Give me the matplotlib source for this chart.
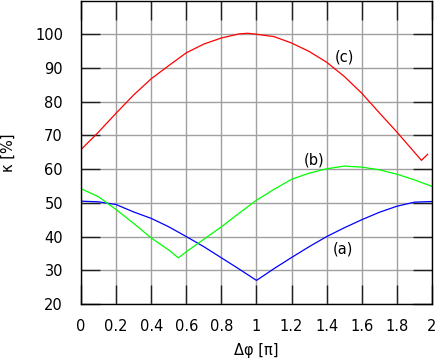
import matplotlib
matplotlib.use("Agg")
import matplotlib.pyplot as plt
import numpy as np

# data
dphi = [0.0, 0.1, 0.2, 0.3, 0.4, 0.5, 0.6, 0.7, 0.8, 0.9, 1.0,
        1.1, 1.2, 1.3, 1.4, 1.5, 1.6, 1.7, 1.8, 1.9, 2.0]
kappa_a = [50.5, 50.3, 49.5, 47.3, 45.4, 42.9, 40.0, 37.0, 33.7, 30.4, 27.0,
           30.5, 33.8, 37.0, 40.0, 42.6, 45.0, 47.2, 49.0, 50.2, 50.4]

dphi_b = [0.0, 0.1, 0.2, 0.3, 0.4, 0.5, 0.555, 0.6, 0.7, 0.8, 0.9, 1.0,
          1.1, 1.2, 1.3, 1.4, 1.5, 1.6, 1.7, 1.8, 1.9, 2.0]
kappa_b = [54.2, 51.8, 48.0, 43.9, 39.6, 36.0, 33.7, 35.5, 39.2, 42.9, 46.9, 50.8,
           54.0, 57.0, 58.8, 60.1, 60.9, 60.6, 59.8, 58.5, 56.8, 54.9]

dphi_c = [0.0, 0.1, 0.2, 0.3, 0.4, 0.5, 0.6, 0.7, 0.8, 0.9, 0.95, 1.0,
          1.1, 1.2, 1.3, 1.4, 1.5, 1.6, 1.7, 1.8, 1.9, 1.94, 1.975]
kappa_c = [65.8, 71.0, 76.6, 82.0, 86.8, 90.7, 94.5, 97.1, 98.9, 100.1, 100.3, 100.0,
           99.3, 97.4, 94.9, 91.7, 87.5, 82.5, 76.7, 71.0, 65.0, 62.6, 64.4]

labels = ["(a)", "(b)", "(c)"]
label_pos = [(1.49, 36.3), (1.33, 62.8), (1.50, 93.2)]

plt.rcParams["font.family"] = "DejaVu Sans"
plt.rcParams["font.size"] = 10.5

fig = plt.figure(figsize=(4.36, 3.63), dpi=100)
ax = fig.add_axes([0.1858, 0.1625, 0.805, 0.836])

ax.plot(dphi, kappa_a, color="#0000ff", lw=0.9)
ax.plot(dphi_b, kappa_b, color="#00ff00", lw=0.9)
ax.plot(dphi_c, kappa_c, color="#ff0000", lw=0.9)

for txt, (x, y) in zip(labels, label_pos):
    ax.text(x, y, txt, ha="center", va="center")

ax.set_xlim(0, 2)
ax.set_ylim(20, 110)
ax.set_xticks(np.arange(0, 2.01, 0.2))
ax.set_xticklabels(["0", "0.2", "0.4", "0.6", "0.8", "1", "1.2", "1.4", "1.6", "1.8", "2"])
ax.set_yticks(np.arange(20, 101, 10))
ax.grid(True, color="#a0a0a0", lw=1.0)
ax.set_axisbelow(True)
ax.tick_params(direction="in", length=14, width=1, color="#202020",
               top=True, right=True)
ax.tick_params(axis="x", pad=11)
ax.tick_params(axis="y", pad=13)
for sp in ax.spines.values():
    sp.set_linewidth(1.0)

ax.set_xlabel("Δφ [π]", labelpad=6)
ax.set_ylabel("κ [%]", labelpad=14)

fig.savefig("out.png", dpi=100)
